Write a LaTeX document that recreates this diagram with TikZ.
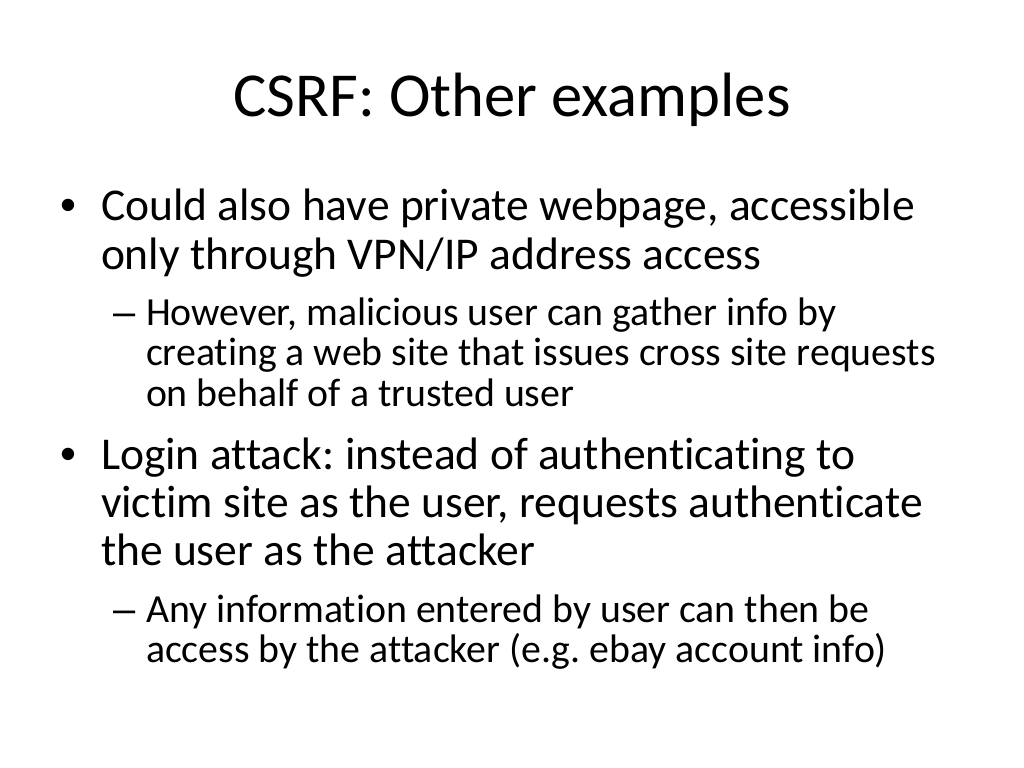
\documentclass[tikz,border=0pt]{standalone}
\usepackage{fontspec}
\setmainfont{Carlito}[Ligatures=NoCommon]
\newfontfamily\bulletfont{Liberation Sans}
\usepackage{tikz}
\usetikzlibrary{positioning}
\frenchspacing

\begin{document}
\begin{tikzpicture}[x=0.703125pt,y=-0.703125pt,
                    every node/.style={inner sep=0pt,outer sep=0pt,text=black},
                    title node/.style={anchor=base,font=\fontsize{44}{52.8}\selectfont},
                    bullet/.style={anchor=base west,font=\bulletfont\fontsize{32}{34.1}\selectfont},
                    dash mark/.style={anchor=base west,font=\bulletfont\fontsize{28}{28.8}\selectfont},
                    main item/.style={anchor=base west,font=\fontsize{32}{34.1}\selectfont},
                    sub item/.style={anchor=base west,font=\fontsize{28}{28.8}\selectfont}]
  \useasboundingbox[fill=white] (0,0) rectangle (1024,768);

  % Title
  \node[title node] (title) at (512,117) {CSRF: Other examples};

  % First bullet
  \node[bullet] (b1) at (60,221) {•};
  \node[main item] (t1) at (101,221) {\parbox[t]{900pt}{Could also have private webpage, accessible\\
    only through VPN/IP address access}};
  \node[dash mark] (d1) at (113,325) {–};
  \node[sub item] (s1) at (146,325) {\parbox[t]{900pt}{However, malicious user can gather info by\\
    creating a web site that issues cross site requests\\
    on behalf of a trusted user}};

  % Second bullet
  \node[bullet] (b2) at (60,469) {•};
  \node[main item] (t2) at (101,469) {\parbox[t]{900pt}{Login attack: instead of authenticating to\\
    victim site as the user, requests authenticate\\
    the user as the attacker}};
  \node[dash mark] (d2) at (113,622) {–};
  \node[sub item] (s2) at (146,622) {\parbox[t]{900pt}{Any information entered by user can then be\\
    access by the attacker (e.g. ebay account info)}};
\end{tikzpicture}
\end{document}
